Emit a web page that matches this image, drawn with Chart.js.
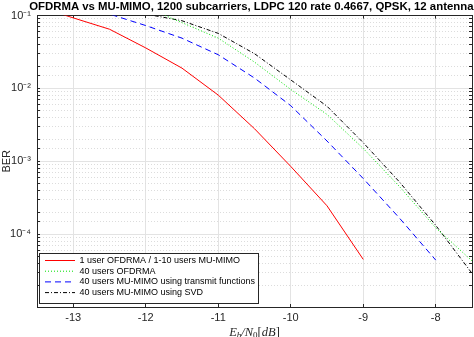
<!DOCTYPE html>
<html><head><meta charset="utf-8">
<script src="https://cdn.jsdelivr.net/npm/chart.js@4.4.1/dist/chart.umd.min.js"></script>
<style>html,body{margin:0;padding:0;background:#fff;overflow:hidden}#wrap{width:474px;height:337px;position:relative}</style>
</head><body><div id="wrap"><canvas id="c" width="474" height="337"></canvas></div>
<script>
// ---- data ----
const chartTitle = 'OFDRMA vs MU-MIMO, 1200 subcarriers, LDPC 120 rate 0.4667, QPSK, 12 antennas';
const yAxisLabel = 'BER';
const seriesNames = [
  '1 user OFDRMA / 1-10 users MU-MIMO',
  '40 users OFDRMA',
  '40 users MU-MIMO using transmit functions',
  '40 users MU-MIMO using SVD'
];
const xTickValues = [-13, -12, -11, -10, -9, -8];
const yTickExponents = [-4, -3, -2, -1];
const yTickLabels = ['10\u207B\u2074', '10\u207B\u00B3', '10\u207B\u00B2', '10\u207B\u00B9'];

const ebn0Single = [-13.5, -13, -12.5, -12, -11.5, -11, -10.5, -10, -9.5, -9];
const berSingle  = [0.135, 0.093, 0.065, 0.036, 0.019, 0.0081, 0.0028, 0.00085, 0.000245, 0.000045];

const ebn0Ofdrma40 = [-12, -11.5, -11, -10.5, -10, -9.5, -9, -8.5, -8, -7.5];
const berOfdrma40  = [0.13, 0.080, 0.049, 0.023, 0.0097, 0.0044, 0.0015, 0.00045, 0.000122, 0.000043];

const ebn0Transmit = [-13, -12.5, -12, -11.5, -11, -10.5, -10, -9.5, -9, -8.5, -8];
const berTransmit  = [0.15, 0.105, 0.073, 0.049, 0.029, 0.0139, 0.0058, 0.0019, 0.00058, 0.000166, 0.000044];

const ebn0Svd = [-12, -11.5, -11, -10.5, -10, -9.5, -9, -8.5, -8, -7.5];
const berSvd  = [0.105, 0.085, 0.057, 0.030, 0.0131, 0.0057, 0.0018, 0.00052, 0.000132, 0.000029];

// ---- styling ----
const FONT = '"Liberation Sans", Arial, Helvetica, sans-serif';
const AXIS_COLOR = '#262626';
const toPts = (xs, ys) => xs.map((x, i) => ({ x: x, y: ys[i] }));
const isDecade = v => Math.abs(Math.log10(v) - Math.round(Math.log10(v))) < 1e-6;

const datasets = [
  { label: seriesNames[0], data: toPts(ebn0Single, berSingle), borderColor: '#ff0000', borderWidth: 1, borderDash: [] },
  { label: seriesNames[1], data: toPts(ebn0Ofdrma40, berOfdrma40), borderColor: '#00e000', borderWidth: 1, borderDash: [1, 2] },
  { label: seriesNames[2], data: toPts(ebn0Transmit, berTransmit), borderColor: '#0000ff', borderWidth: 1, borderDash: [6, 4] },
  { label: seriesNames[3], data: toPts(ebn0Svd, berSvd), borderColor: '#000000', borderWidth: 1, borderDash: [4, 2, 1, 2] }
].map(d => Object.assign(d, { pointRadius: 0, fill: false, tension: 0 }));

const LEGEND_FONT_SIZE = 9;
const LEGEND_PAD = 1.7;

function drawLegendFrame(chart) {
  const ctx = chart.ctx, ca = chart.chartArea, lg = chart.legend;
  ctx.save();
  ctx.font = LEGEND_FONT_SIZE + 'px ' + FONT;
  let maxW = 0;
  seriesNames.forEach(s => { maxW = Math.max(maxW, ctx.measureText(s).width); });
  const textX = lg.left + LEGEND_PAD + 30 + LEGEND_FONT_SIZE / 2;
  const x0 = ca.left + 2.5, y0 = ca.bottom - 53.5;
  const w = Math.round(textX + maxW + 3 - x0);
  ctx.fillStyle = '#ffffff';
  ctx.fillRect(x0, y0, w, 50);
  ctx.strokeStyle = AXIS_COLOR;
  ctx.lineWidth = 1;
  ctx.strokeRect(x0, y0, w, 50);
  ctx.restore();
}

const decorPlugin = {
  id: 'decor',
  beforeDraw(chart) {
    const lg = chart.legend, ca = chart.chartArea;
    if (lg) {
      lg.left = ca.left + 8 - LEGEND_PAD; lg.right = ca.right;
      lg.top = ca.bottom - 46.5 - LEGEND_PAD - LEGEND_FONT_SIZE / 2; lg.bottom = ca.bottom;
      lg.width = lg.right - lg.left; lg.height = lg.bottom - lg.top;
      if (!lg._boxPatched) {
        const orig = lg.draw;
        lg.draw = function (area) { drawLegendFrame(chart); return orig.call(this, area); };
        lg._boxPatched = true;
      }
    }
  },
  afterDraw(chart) {
    const ctx = chart.ctx, ca = chart.chartArea;
    const cx = (ca.left + ca.right) / 2;
    ctx.save();
    // title
    ctx.fillStyle = '#000';
    ctx.font = 'bold 11.4px ' + FONT;
    ctx.textAlign = 'center';
    ctx.textBaseline = 'middle';
    ctx.fillText(chartTitle, cx, 6.5);
    // x label  E_b/N_0[dB]
    const SERIF = '"Liberation Serif", "Times New Roman", serif';
    const parts = [
      { t: 'E', f: 'italic 12.5px ' + SERIF, dy: 0 },
      { t: 'b', f: 'italic 9px ' + SERIF, dy: 2.5 },
      { t: '/N', f: 'italic 12.5px ' + SERIF, dy: 0 },
      { t: '0', f: '9px ' + SERIF, dy: 2.5 },
      { t: '[', f: '12.5px ' + SERIF, dy: 0 },
      { t: 'dB', f: 'italic 12.5px ' + SERIF, dy: 0 },
      { t: ']', f: '12.5px ' + SERIF, dy: 0 }
    ];
    let total = 0;
    parts.forEach(p => { ctx.font = p.f; p.w = ctx.measureText(p.t).width; total += p.w; });
    let x = cx - total / 2;
    ctx.textAlign = 'left';
    ctx.textBaseline = 'alphabetic';
    ctx.fillStyle = AXIS_COLOR;
    parts.forEach(p => { ctx.font = p.f; ctx.fillText(p.t, x, 335.5 + p.dy); x += p.w; });
    ctx.restore();
  }
};

new Chart(document.getElementById('c'), {
  type: 'line',
  data: { datasets: datasets },
  plugins: [decorPlugin],
  options: {
    responsive: false,
    animation: false,
    devicePixelRatio: 1,
    layout: { padding: { top: 14, left: 0, right: 0, bottom: 0 } },
    plugins: {
      title: { display: false },
      tooltip: { enabled: false },
      legend: {
        position: 'chartArea',
        align: 'start',
        labels: {
          usePointStyle: true,
          pointStyle: 'line',
          pointStyleWidth: 30,
          boxHeight: 10,
          padding: LEGEND_PAD,
          color: '#000',
          font: { family: FONT, size: LEGEND_FONT_SIZE },
          generateLabels: (chart) => chart.data.datasets.map((ds, i) => ({
            text: ds.label, strokeStyle: ds.borderColor, fillStyle: ds.borderColor,
            lineWidth: ds.borderWidth, lineDash: ds.borderDash || [], pointStyle: 'line',
            datasetIndex: i, hidden: false, fontColor: '#000'
          }))
        }
      }
    },
    scales: {
      x: {
        type: 'linear', position: 'bottom', min: -13.5, max: -7.5,
        afterBuildTicks: s => { s.ticks = xTickValues.map(v => ({ value: v })); },
        afterFit: s => { s.height = 30; },
        ticks: { autoSkip: false, maxRotation: 0, padding: 7, color: AXIS_COLOR,
                 font: { family: FONT, size: 11 }, callback: v => String(v) },
        grid: { color: '#e3e3e3', lineWidth: 1, tickLength: -3, tickColor: AXIS_COLOR, tickWidth: 1 },
        border: { color: AXIS_COLOR, width: 1 }
      },
      x2: {
        type: 'linear', position: 'top', min: -13.5, max: -7.5,
        afterBuildTicks: s => { s.ticks = xTickValues.map(v => ({ value: v })); },
        afterFit: s => { s.height = 0; },
        ticks: { display: false },
        grid: { drawOnChartArea: false, tickLength: -3, tickColor: AXIS_COLOR },
        border: { color: AXIS_COLOR, width: 1 }
      },
      y: {
        type: 'logarithmic', position: 'left', min: 1e-5, max: 1e-1,
        afterFit: s => { s.width = 37; },
        ticks: {
          autoSkip: false, padding: 9, color: AXIS_COLOR, font: { family: FONT, size: 11 },
          callback: (v) => {
            if (!isDecade(v)) return '';
            const e = Math.round(Math.log10(v));
            const k = yTickExponents.indexOf(e);
            return k >= 0 ? yTickLabels[k] : '';
          }
        },
        grid: {
          color: c => (c.tick && isDecade(c.tick.value)) ? '#e3e3e3' : 'rgba(0,0,0,0)',
          tickLength: -3, tickColor: AXIS_COLOR, tickWidth: 1
        },
        border: { color: AXIS_COLOR, width: 1 },
        title: { display: true, text: yAxisLabel, color: AXIS_COLOR, font: { family: FONT, size: 11 }, padding: 0 }
      },
      y2: {
        type: 'logarithmic', position: 'right', min: 1e-5, max: 1e-1,
        afterFit: s => { s.width = 2; },
        ticks: { display: false, autoSkip: false },
        grid: {
          color: c => (c.tick && isDecade(c.tick.value)) ? 'rgba(0,0,0,0)' : '#dcdcdc',
          tickLength: -3, tickColor: AXIS_COLOR, tickWidth: 1, tickBorderDash: [1, 0]
        },
        border: { color: AXIS_COLOR, width: 1, dash: [1, 2] }
      }
    }
  }
});
</script>
</body></html>
